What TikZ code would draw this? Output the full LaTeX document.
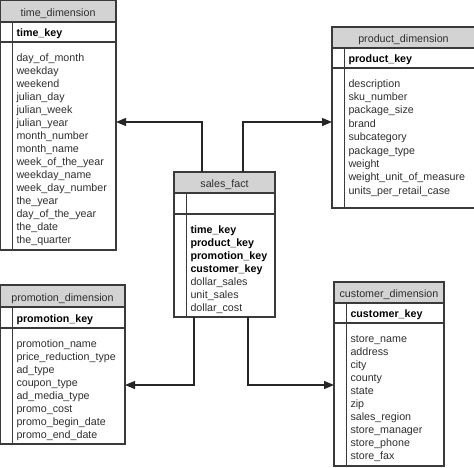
\documentclass[tikz,border=0pt]{standalone}
\usepackage{fontspec}
\setmainfont{Liberation Sans}
\usepackage{tikz}
\usetikzlibrary{positioning, arrows.meta}
\hyphenpenalty=10000
\definecolor{rim}{HTML}{3A3A3A}
\definecolor{head}{HTML}{D3D3D3}
\definecolor{ink}{HTML}{2E2E2E}
\tikzset{
  cell/.style={draw=rim, line width=1.1pt, outer sep=0pt, inner ysep=0pt,
               font=\fontsize{10.7}{13}\selectfont, text=ink},
  hdr/.style={cell, fill=head, align=center, text height=12pt, text depth=2pt},
  split/.style={path picture={\draw[rim, line width=1.1pt]
                ([xshift=12.5pt]path picture bounding box.south west) --
                ([xshift=12.5pt]path picture bounding box.north west);}},
  keyrow/.style={cell, split, inner xsep=16.5pt, align=left, text=black,
                 font=\fontsize{10.7}{13}\selectfont\bfseries,
                 text height=11pt, text depth=2pt},
  bodyrow/.style={cell, split, inner xsep=16.5pt, align=left,
                  execute at begin node={\rule{0pt}{#1}}},
  bodyrow/.default=16pt,
  ar/.style={-{Triangle[length=10pt, width=8pt]}, line width=1.2pt, black!85},
}

\begin{document}
\begin{tikzpicture}[x=1pt, y=-1pt, node distance=0pt]
  \useasboundingbox (0,0) rectangle (474,467);
  \clip (0,0) rectangle (474,467);

  % time dimension
  \node[hdr, minimum width=116pt, minimum height=22pt, anchor=north west] (timehd) at (0,0) {time\_dimension};
  \node[keyrow, text width=83pt, minimum height=20pt, below=of timehd] (timekey) {time\_key};
  \node[bodyrow, text width=83pt, minimum height=208pt, below=of timekey] (timebody)
    {day\_of\_month\\ weekday\\ weekend\\ julian\_day\\ julian\_week\\ julian\_year\\
     month\_number\\ month\_name\\ week\_of\_the\_year\\ weekday\_name\\ week\_day\_number\\
     the\_year\\ day\_of\_the\_year\\ the\_date\\ the\_quarter};

  % product dimension
  \node[hdr, minimum width=143pt, minimum height=21pt, anchor=north west] (producthd) at (332,27) {product\_dimension};
  \node[keyrow, text width=110pt, minimum height=20pt, below=of producthd] (productkey) {product\_key};
  \node[bodyrow=5pt, text width=110pt, minimum height=140pt, below=of productkey,
        font=\fontsize{10.7}{13.4}\selectfont] (productbody)
    {description\\ sku\_number\\ package\_size\\ brand\\ subcategory\\ package\_type\\
     weight\\ weight\_unit\_of\_measure\\ units\_per\_retail\_case};

  % sales fact
  \node[hdr, minimum width=101pt, minimum height=21pt, anchor=north west] (salesfact) at (174,172) {sales\_fact};
  \node[keyrow, text width=68pt, minimum height=21pt, below=of salesfact] (saleskey) {};
  \node[bodyrow, text width=68pt, minimum height=103pt, below=of saleskey] (salesbody)
    {\textbf{\color{black}time\_key}\\ \textbf{\color{black}product\_key}\\
     \textbf{\color{black}promotion\_key}\\ \textbf{\color{black}customer\_key}\\
     dollar\_sales\\ unit\_sales\\ dollar\_cost};

  % promotion dimension
  \node[hdr, minimum width=125pt, minimum height=22pt, anchor=north west] (promohd) at (0,285) {promotion\_dimension};
  \node[keyrow, text width=92pt, minimum height=21pt, below=of promohd] (promokey) {promotion\_key};
  \node[bodyrow, text width=92pt, minimum height=116pt, below=of promokey] (promobody)
    {promotion\_name\\ price\_reduction\_type\\ ad\_type\\ coupon\_type\\ ad\_media\_type\\
     promo\_cost\\ promo\_begin\_date\\ promo\_end\_date};

  % customer dimension
  \node[hdr, minimum width=110pt, minimum height=21pt, anchor=north west] (custhd) at (334,282) {customer\_dimension};
  \node[keyrow, text width=77pt, minimum height=20pt, below=of custhd] (custkey) {customer\_key};
  \node[bodyrow, text width=77pt, minimum height=143pt, below=of custkey] (custbody)
    {store\_name\\ address\\ city\\ county\\ state\\ zip\\ sales\_region\\
     store\_manager\\ store\_phone\\ store\_fax};

  % links
  \coordinate (tl) at (202,122);
  \coordinate (tr) at (243,122);
  \coordinate (bl) at (194,385);
  \coordinate (br) at (248,385);
  \draw[ar] (salesfact.north -| tl) |- (timebody.east |- tl);
  \draw[ar] (salesfact.north -| tr) |- (productbody.west |- tr);
  \draw[ar] (salesbody.south -| bl) |- (promobody.east |- bl);
  \draw[ar] (salesbody.south -| br) |- (custbody.west |- br);
\end{tikzpicture}
\end{document}
